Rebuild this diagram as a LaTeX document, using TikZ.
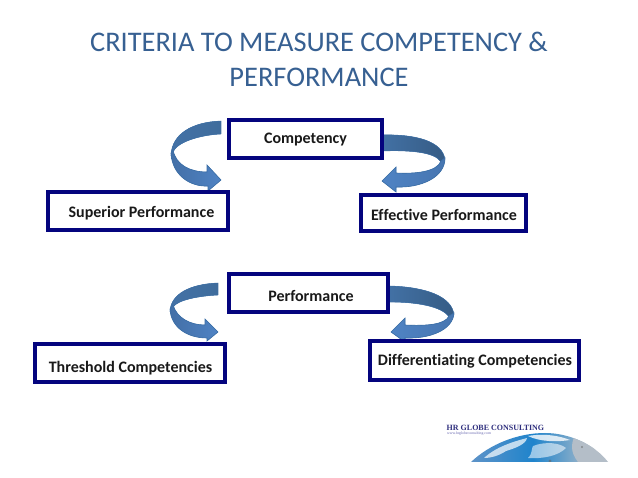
\documentclass[tikz,border=0pt]{standalone}
\usepackage{fontspec}
\setmainfont[Ligatures=NoCommon]{Carlito}
\newfontfamily\logofont{Liberation Serif}
\definecolor{navy}{HTML}{04047E}
\definecolor{titleblue}{HTML}{376092}
\definecolor{banddark}{HTML}{3F6C9C}
\definecolor{bandlight}{HTML}{4F83C4}
\definecolor{bandedge}{HTML}{3B6EA5}
\definecolor{globeblue}{HTML}{1F84CC}
\definecolor{globedeep}{HTML}{5E93C8}
\definecolor{globegrey}{HTML}{B4BEC8}
\tikzset{
  box/.style={draw=navy,line width=3.6pt,fill=white,minimum width=#1,inner sep=0pt},
  lab/.style={font=\bfseries\fontsize{16}{18}\selectfont,text=black!90,inner sep=0pt},
  ttl/.style={font=\fontsize{28.4}{35}\selectfont,text=titleblue,align=center,inner sep=0pt},
  back/.style={fill=banddark,draw=bandedge,line width=.4pt},
  front/.style={fill=bandlight,draw=bandedge,line width=.6pt,line join=miter},
}
\begin{document}
\begin{tikzpicture}[x=1pt,y=-1pt]
\useasboundingbox (0,0) rectangle (638,478);
\fill[white] (0,0) rectangle (638,478);
\node[ttl] (title) at (319,59.5) {CRITERIA TO MEASURE COMPETENCY \&\\PERFORMANCE};

% top-left arrow
\path[back,left color=banddark!75!bandlight,right color=banddark]
  (221,121) .. controls (192,122) and (172,134) .. (171,155)
  -- (173,152) .. controls (177,142) and (200,135) .. (221,134) -- cycle;
\path[front,left color=bandlight!85!black,right color=bandlight]
  (171,153) .. controls (172,175) and (190,187) .. (208,186)
  -- (208,191) -- (221,180) -- (207,165) -- (207,172)
  .. controls (190,172) and (176,165) .. (173,150) -- cycle;
% top-right arrow
\path[back,left color=banddark!80!bandlight,right color=banddark!85!black]
  (382,135) .. controls (415,134) and (443,141) .. (445,160)
  -- (441,162) .. controls (435,152) and (410,150) .. (382,151) -- cycle;
\path[front,left color=bandlight,right color=bandlight!90!black]
  (445,158) .. controls (445,178) and (420,188) .. (396,187)
  -- (396,192) -- (382,181) -- (396,167) -- (396,173)
  .. controls (415,174) and (437,172) .. (441,161) -- cycle;
% bottom-left arrow
\path[back,left color=banddark!75!bandlight,right color=banddark]
  (218,283) .. controls (190,284) and (171,294) .. (170,311)
  -- (173,307) .. controls (178,300) and (198,296) .. (218,295) -- cycle;
\path[front,left color=bandlight!85!black,right color=bandlight]
  (170,309) .. controls (171,328) and (188,338) .. (207,338)
  -- (207,341) -- (218,332) -- (205,319) -- (205,325)
  .. controls (190,325) and (177,318) .. (173,305) -- cycle;
% bottom-right arrow
\path[back,left color=banddark!80!bandlight,right color=banddark!85!black]
  (390,286) .. controls (425,287) and (452,296) .. (454,315)
  -- (449,317) .. controls (442,306) and (415,302) .. (390,302) -- cycle;
\path[front,left color=bandlight,right color=bandlight!90!black]
  (454,313) .. controls (453,330) and (430,339) .. (405,338)
  -- (405,342) -- (391,332) -- (405,318) -- (405,325)
  .. controls (425,326) and (445,325) .. (449,316) -- cycle;

% boxes
\node[box=153.4pt,minimum height=38pt] (competency) at (305.5,139) {};
\node[box=180.4pt,minimum height=38.4pt] (superior) at (138,211) {};
\node[box=165.4pt,minimum height=36.4pt] (effective) at (443.5,213) {};
\node[box=159.4pt,minimum height=38.4pt] (performance) at (308.5,293) {};
\node[box=190.4pt,minimum height=38.4pt] (threshold) at (130,363) {};
\node[box=209.4pt,minimum height=39.4pt] (differentiating) at (474.5,360.5) {};

\node[lab] (tcompetency) at (305.5,139.5) {Competency};
\node[lab] (tsuperior) at (141.5,213) {Superior Performance};
\node[lab] (teffective) at (444,214.5) {Effective Performance};
\node[lab] (tperformance) at (311,296.5) {Performance};
\node[lab] (tthreshold) at (130.5,368.5) {Threshold Competencies};
\node[lab] (tdiff) at (475,361.5) {Differentiating Competencies};

% logo globe
\begin{scope}
\clip (471,462) .. controls (490,444) and (518,433) .. (545,433)
  .. controls (570,433) and (595,445) .. (608,462) -- cycle;
\shade[left color=globedeep,right color=globegrey,middle color=globeblue] (471,430) rectangle (595,462);
\fill[globegrey] (578,430) .. controls (570,442) and (570,452) .. (578,462) -- (610,462) -- (610,430) -- cycle;
\fill[white,opacity=.7] (484,458) .. controls (496,447) and (512,442) .. (527,438)
  .. controls (526,444) and (516,448) .. (506,451) .. controls (500,455) and (492,458) .. (484,458) -- cycle;
\fill[white,opacity=.8] (528,436) .. controls (545,433) and (560,436) .. (570,440)
  .. controls (558,442) and (540,442) .. (528,436) -- cycle;
\fill[white,opacity=.55] (533,446) .. controls (546,441) and (560,443) .. (566,448)
  .. controls (558,456) and (543,459) .. (528,458) .. controls (533,453) and (531,449) .. (533,446) -- cycle;
\fill[black!60,opacity=.6] (550,461) circle (1.6) (582,447) circle (1.2);
\end{scope}
\node[font=\logofont\bfseries\fontsize{8}{8}\selectfont,text=navy!65!gray,anchor=west,inner sep=0pt] (logo) at (446.5,427.5) {HR GLOBE CONSULTING};
\node[font=\logofont\fontsize{3.8}{4}\selectfont,text=navy!60,anchor=west,inner sep=0pt] (logourl) at (447,434) {www.hrglobeconsulting.com};
\end{tikzpicture}
\end{document}
